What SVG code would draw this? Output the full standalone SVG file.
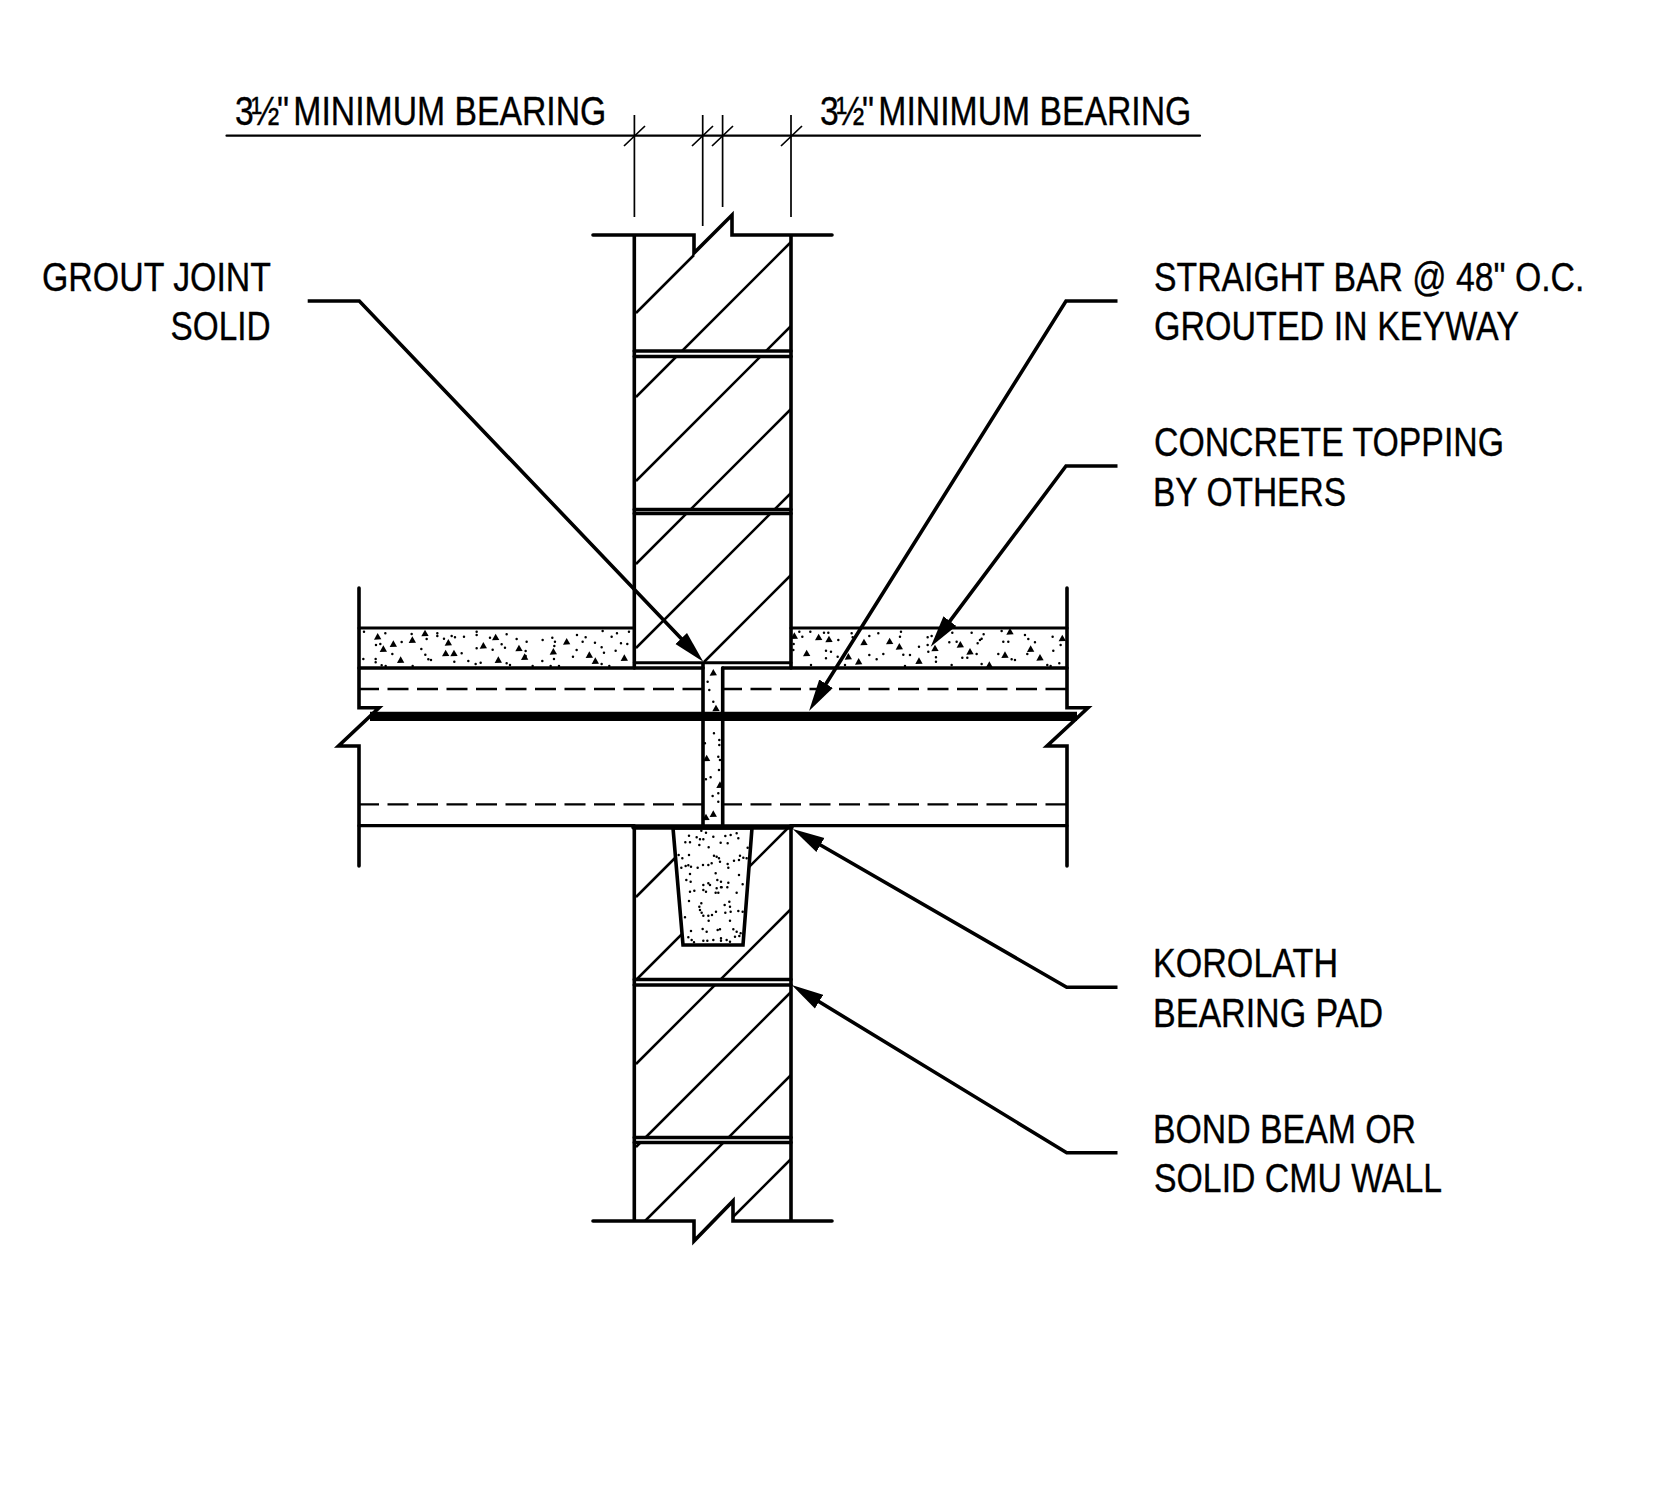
<svg xmlns="http://www.w3.org/2000/svg" xmlns:xlink="http://www.w3.org/1999/xlink" width="1665" height="1508" viewBox="0 0 1665 1508">
<style>
text{font-family:"Liberation Sans",Arial,sans-serif;font-size:41px;fill:#000;stroke:#000;stroke-width:.35}
.l,.h,.t,.d,.lead,.bar{fill:none;stroke:#000}
.l{stroke-width:3.6;stroke-linecap:round;stroke-linejoin:miter}
.h{stroke-width:2.5}
.t{stroke-width:1.7}
.d{stroke-width:2.3;stroke-dasharray:21 8.5}
.lead{stroke-width:3.6;stroke-linejoin:miter;marker-end:url(#arrow)}
.dots{fill:none;stroke:#000;stroke-width:7.5;stroke-linecap:round}
.w{fill:#fff;stroke:none}
</style>
<defs>
<marker id="arrow" markerUnits="userSpaceOnUse" markerWidth="34" markerHeight="18" viewBox="0 -9 34 18" refX="20" refY="0" orient="auto"><path d="M0-8L32 0L0 8z" fill="#000"/></marker>
<path id="a" d="M-11 9L0-11L11 8z" fill="#000"/>
</defs>
<rect width="1665" height="1508" fill="#fff"/>

<g id="wall-upper">
<path class="h" d="M636 313L694 255M636 397L791 242M636 481L791 326M636 564L791 409M636 648L791 493M704 662L791 575"/>
<rect class="w" x="634" y="351" width="157" height="5"/>
<rect class="w" x="634" y="509" width="157" height="5"/>
<path class="l" d="M634.3 235V668M791 235V668M593 235H694V253L732 215V235H832"/>
<path class="l" d="M634.3 351H791M634.3 356.5H791M634.3 509.5H791M634.3 513.5H791"/>
<path class="l" d="M634.3 662.7H791" style="stroke-width:3"/>
</g>

<g id="wall-lower">
<path class="h" d="M636 897L706 827M636 980L791 825M636 1064L791 909M636 1147L791 992M645 1221L791 1075M733 1217L791 1159"/>
<rect class="w" x="634" y="980" width="157" height="5"/>
<rect class="w" x="634" y="1138" width="157" height="5"/>
<path class="l" d="M673 828L683 945H743L752 828Z" style="fill:#fff"/>
<path class="l" d="M634.3 826V1221M791 826V1221M593 1221H694V1241L733 1201V1221H832"/>
<path class="l" d="M634.3 979.5H791M634.3 985H791M634.3 1137.5H791M634.3 1142.5H791"/>
<g transform="translate(620 800) scale(.3333)">
<path class="dots" d="M244 92h0M258 98h0M207 107h0M280 110h0M230 112h0M240 118h0M250 118h0M332 105h0M316 108h0M350 100h0M355 115h0M196 127h0M210 127h0M302 128h0M323 130h0M238 135h0M266 142h0M176 165h0M207 165h0M187 175h0M282 167h0M290 170h0M297 175h0M360 167h0M357 180h0M342 182h0M370 173h0M380 175h0M300 185h0M265 195h0M275 190h0M184 203h0M197 198h0M205 196h0M213 200h0M233 203h0M249 195h0M323 192h0M325 203h0M383 143h0M210 222h0M287 220h0M357 225h0M199 240h0M212 245h0M265 250h0M292 240h0M303 245h0M325 248h0M250 255h0M270 255h0M305 262h0M322 262h0M368 253h0M290 265h0M210 275h0M223 272h0M250 270h0M258 275h0M287 278h0M295 278h0M303 262h0M350 278h0M207 303h0M244 310h0M238 320h0M328 305h0M314 315h0M330 320h0M240 330h0M245 338h0M288 335h0M276 345h0M265 347h0M250 347h0M316 338h0M332 335h0M355 333h0M368 335h0M195 352h0M266 362h0M330 362h0M248 387h0M260 395h0M293 390h0M300 388h0M340 388h0M350 395h0M213 393h0M362 400h0M205 412h0M215 420h0M250 422h0M262 422h0M280 420h0M303 415h0M303 422h0M320 420h0M345 410h0M358 408h0M222 427h0M330 425h0"/>
</g>
</g>

<g id="topping">
<path class="l" d="M359 628H634M791 628H1067" style="stroke-width:3.2"/>
<g transform="translate(320 580) scale(.3333)">
<path class="dots" d="M132 155h0M196 160h0M352 160h0M352 168h0M320 177h0M275 162h0M395 168h0M405 172h0M432 170h0M470 155h0M470 165h0M510 173h0M560 163h0M590 177h0M620 185h0M668 180h0M697 173h0M705 185h0M703 198h0M771 165h0M797 172h0M788 185h0M825 188h0M875 170h0M891 160h0M848 153h0M903 190h0M922 192h0M927 155h0M168 195h0M181 192h0M245 186h0M304 207h0M372 176h0M470 205h0M518 209h0M555 203h0M545 193h0M617 213h0M617 228h0M667 243h0M702 237h0M759 230h0M770 210h0M845 202h0M852 218h0M887 212h0M130 237h0M167 237h0M167 247h0M185 256h0M197 258h0M217 222h0M316 224h0M325 238h0M333 240h0M425 220h0M403 245h0M445 243h0M467 252h0M482 248h0M560 250h0M570 255h0M638 258h0M692 258h0M717 258h0M845 252h0M868 258h0M278 258h0"/>
<use href="#a" x="173" y="170"/><use href="#a" x="220" y="192"/><use href="#a" x="277" y="180"/><use href="#a" x="190" y="207"/><use href="#a" x="315" y="160"/><use href="#a" x="385" y="188"/><use href="#a" x="377" y="220"/><use href="#a" x="402" y="220"/><use href="#a" x="527" y="172"/><use href="#a" x="490" y="197"/><use href="#a" x="535" y="240"/><use href="#a" x="597" y="205"/><use href="#a" x="614" y="231"/><use href="#a" x="700" y="215"/><use href="#a" x="740" y="185"/><use href="#a" x="808" y="225"/><use href="#a" x="826" y="243"/><use href="#a" x="913" y="234"/><use href="#a" x="242" y="240"/>
</g>
<g transform="translate(700 580) scale(.3333)">
<path class="dots" d="M298 155h0M331 155h0M307 170h0M372 158h0M385 158h0M281 192h0M280 210h0M378 212h0M393 215h0M378 235h0M333 255h0M415 180h0M413 230h0M455 160h0M458 172h0M445 205h0M508 168h0M535 160h0M603 155h0M600 170h0M657 200h0M610 224h0M630 225h0M508 225h0M530 238h0M550 222h0M683 172h0M695 168h0M683 195h0M685 215h0M708 232h0M708 245h0M757 158h0M815 158h0M851 163h0M755 255h0M787 233h0M802 233h0M845 176h0M840 180h0M833 190h0M748 187h0M770 185h0M830 222h0M895 222h0M935 238h0M945 240h0M975 165h0M985 177h0M910 185h0M925 185h0M1005 187h0M1058 170h0M1060 212h0M1082 195h0M1078 250h0M1042 255h0M1052 258h0M615 258h0M435 255h0M982 222h0M845 252h0M905 153h0"/>
<use href="#a" x="283" y="168"/><use href="#a" x="356" y="172"/><use href="#a" x="387" y="178"/><use href="#a" x="320" y="220"/><use href="#a" x="492" y="187"/><use href="#a" x="445" y="230"/><use href="#a" x="476" y="245"/><use href="#a" x="569" y="184"/><use href="#a" x="598" y="200"/><use href="#a" x="705" y="205"/><use href="#a" x="657" y="243"/><use href="#a" x="781" y="194"/><use href="#a" x="810" y="215"/><use href="#a" x="915" y="225"/><use href="#a" x="992" y="207"/><use href="#a" x="1020" y="233"/><use href="#a" x="868" y="255"/><use href="#a" x="930" y="155"/><use href="#a" x="1087" y="175"/>
</g>
</g>

<g id="slab">
<path class="l" d="M359 588V707.7H379L338.5 746H359V866M1067 588V707.7H1088L1047 746H1067V866"/>
<path class="l" d="M359 668H703M722.7 668H1067"/>
<path class="l" d="M359 825.7H634M791 825.7H1067" style="stroke-width:3.2"/>
<path class="l" d="M634 827H791" style="stroke-width:5.5"/>
<path class="d" d="M358 689H703M721 689H1067M358 804.3H703M721 804.3H1067"/>
</g>

<g id="grout-joint">
<path class="l" d="M703 664V826M722.7 668V826"/>
<g transform="translate(320 580) scale(.3333)">
<path class="dots" d="M1163 305h0M1168 330h0M1180 365h0M1182 460h0M1155 490h0M1198 480h0M1198 495h0M1195 530h0M1200 540h0M1197 570h0M1172 592h0M1158 598h0M1178 648h0M1195 665h0M1195 640h0"/>
<use href="#a" x="1188" y="385"/><use href="#a" x="1160" y="535"/><use href="#a" x="1180" y="702"/><use href="#a" x="1158" y="712"/><use href="#a" x="1200" y="615"/><use href="#a" x="1180" y="278"/>
</g>
</g>

<g id="bar">
<path d="M370 716.3H1077" fill="none" stroke="#000" stroke-width="9.3"/>
</g>

<g id="dimensions">
<path class="l" d="M226.5 135.7H1200" style="stroke-width:2.2"/>
<path class="t" d="M634.4 115V217M702.7 115V226M722.6 115V207M791 115V217"/>
<path class="t" d="M624 146L645 126M692 146L713 126M712 146L733 126M781 146L802 126"/>
<text transform="translate(235 125) scale(.823 1)"><tspan letter-spacing="-3">3½" </tspan>MINIMUM BEARING</text>
<text transform="translate(820 125) scale(.823 1)"><tspan letter-spacing="-3">3½" </tspan>MINIMUM BEARING</text>
</g>

<g id="connectors">
<path class="lead" d="M307.7 301H359.3L695 653"/>
<path class="lead" d="M1117.5 301H1066L815.4 700.8"/>
<path class="lead" d="M1117.5 466H1066L937.9 637.1"/>
<path class="lead" d="M1117.5 987.3H1066.7L803.1 835"/>
<path class="lead" d="M1117.5 1152.7H1066.7L802 991.3"/>
</g>

<g id="label-grout"><text x="42" y="291" textLength="229" lengthAdjust="spacingAndGlyphs">GROUT JOINT</text><text x="170.5" y="340" textLength="100" lengthAdjust="spacingAndGlyphs">SOLID</text></g>
<g id="label-bar"><text transform="translate(1154 291) scale(.824 1)">STRAIGHT BAR @ 48" O.C.</text><text x="1154" y="340" textLength="365" lengthAdjust="spacingAndGlyphs">GROUTED IN KEYWAY</text></g>
<g id="label-topping"><text x="1154" y="456" textLength="350" lengthAdjust="spacingAndGlyphs">CONCRETE TOPPING</text><text x="1153" y="506" textLength="193" lengthAdjust="spacingAndGlyphs">BY OTHERS</text></g>
<g id="label-pad"><text x="1153" y="977" textLength="185" lengthAdjust="spacingAndGlyphs">KOROLATH</text><text x="1153" y="1027" textLength="230" lengthAdjust="spacingAndGlyphs">BEARING PAD</text></g>
<g id="label-wall"><text x="1153" y="1143" textLength="263" lengthAdjust="spacingAndGlyphs">BOND BEAM OR</text><text x="1154" y="1192" textLength="288" lengthAdjust="spacingAndGlyphs">SOLID CMU WALL</text></g>
</svg>
